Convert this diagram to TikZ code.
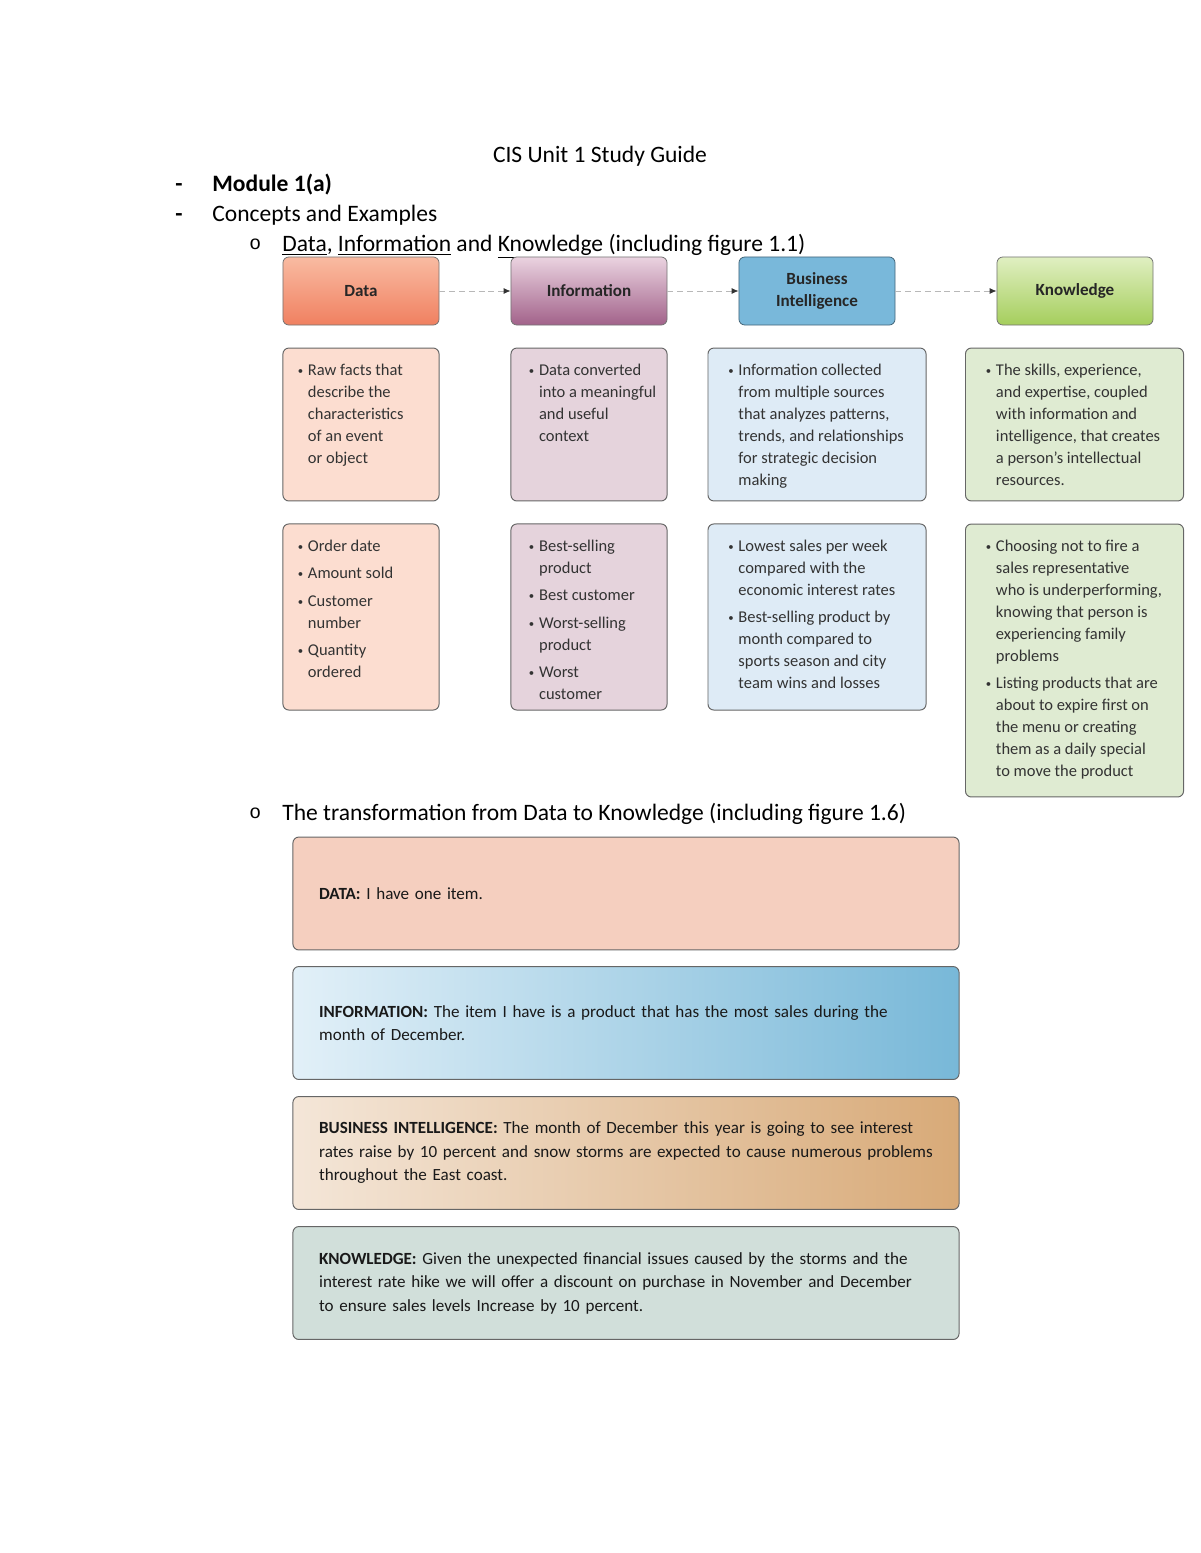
\documentclass[tikz,border=0pt]{standalone}
\usepackage{fontspec}
\setmainfont{Carlito}
\newfontfamily\monofont{Liberation Mono}
\usetikzlibrary{positioning,arrows.meta}

\definecolor{datatop}{RGB}{249,187,162}
\definecolor{databot}{RGB}{240,128,96}
\definecolor{infotop}{RGB}{234,211,224}
\definecolor{infobot}{RGB}{162,98,138}
\definecolor{bicol}{RGB}{121,184,218}
\definecolor{knowtop}{RGB}{224,239,194}
\definecolor{knowbot}{RGB}{165,206,92}
\definecolor{datalight}{RGB}{252,221,208}
\definecolor{infolight}{RGB}{229,211,220}
\definecolor{bilight}{RGB}{222,235,246}
\definecolor{knowlight}{RGB}{223,235,210}
\definecolor{tdatacol}{RGB}{245,207,191}
\definecolor{tinfoleft}{RGB}{226,240,248}
\definecolor{tinforight}{RGB}{120,184,216}
\definecolor{tbileft}{RGB}{244,230,216}
\definecolor{tbiright}{RGB}{216,170,120}
\definecolor{tknowcol}{RGB}{209,223,218}

\newcommand{\bul}{\makebox[5.2pt][l]{\raisebox{0.5pt}{\fontsize{5.5}{5.5}\selectfont\textbullet}}}
\newcommand{\cnt}{\hspace*{5.2pt}}

\begin{document}
\begin{tikzpicture}[x=0.51pt, y=-0.51pt,
		hbox/.style={draw=black!55, rounded corners=3pt, minimum width=79.6pt, minimum height=34.7pt, align=center, font=\fontsize{8.7}{11.2}\selectfont\bfseries, text=black!85},
		dbox/.style={draw=black!60, rounded corners=3pt, line width=0.5pt},
		dtext/.style={inner sep=0pt, align=left, font=\fontsize{8.4}{11.2}\selectfont, text=black!80},
		tbox/.style={draw=black!60, rounded corners=3pt, line width=0.5pt, minimum width=339.7pt, minimum height=57.6pt, text width=313pt, inner xsep=13.3pt, align=left, font=\fontsize{8.7}{12}\selectfont, text=black!90},
		flow/.style={draw=black!28, dash pattern=on 3pt off 2pt, -{Latex[length=3.5pt, width=3pt, color=black!80]}},
		line/.style={anchor=base west, inner sep=0pt, font=\fontsize{12}{14}\selectfont}]
	
	% Page
	\useasboundingbox (0,0) rectangle (1200,1553);
	
	% Heading and outline
	\node [anchor=base, inner sep=0pt, font=\fontsize{12}{14}\selectfont] (title) at (600,163) {CIS Unit 1 Study Guide};
	\node [line, font=\fontsize{12}{14}\selectfont\bfseries] (dash1) at (175,192) {-};
	\node [line, font=\fontsize{12}{14}\selectfont\bfseries] (mod) at (212,192) {Module 1(a)};
	\node [line, font=\fontsize{12}{14}\selectfont\bfseries] (dash2) at (175,222) {-};
	\node [line] (concepts) at (212,222) {Concepts and Examples};
	\node [line, font=\fontsize{10}{12}\monofont] (circ1) at (249,249) {o};
	\node [line] (sub1) at (282,251) {\underline{Data}, \underline{Information} and \underline{Knowledge\ }(including figure 1.1)};
	
	% Figure 1.1: header boxes
	\node [hbox, top color=datatop, bottom color=databot] (hdata) at (361,291) {Data};
	\node [hbox, top color=infotop, bottom color=infobot] (hinfo) at (589,291) {Information};
	\node [hbox, fill=bicol, draw=bicol!55!black] (hbi) at (817,291) {Business\\Intelligence};
	\node [hbox, top color=knowtop, bottom color=knowbot] (hknow) at (1075,291) {Knowledge};
	
	\draw [flow] (hdata) -- (hinfo);
	\draw [flow] (hinfo) -- (hbi);
	\draw [flow] (hbi) -- (hknow);
	
	% Figure 1.1: definitions
	\node [dbox, fill=datalight, minimum width=79.6pt, minimum height=78pt] (ddata) at (361,424.5) {};
	\node [dbox, fill=infolight, minimum width=79.6pt, minimum height=78pt] (dinfo) at (589,424.5) {};
	\node [dbox, fill=bilight, minimum width=111.2pt, minimum height=78pt] (dbi) at (817,424.5) {};
	\node [dbox, fill=knowlight, minimum width=111.2pt, minimum height=78pt] (dknow) at (1074.5,424.5) {};
	
	\node [dtext, below right=8.4pt and 7.6pt of ddata.north west] (ddatatxt) {\bul Raw facts that\\ \cnt describe the\\ \cnt characteristics\\ \cnt of an event\\ \cnt or object};
	\node [dtext, below right=8.4pt and 9.2pt of dinfo.north west] (dinfotxt) {\bul Data converted\\ \cnt into a meaningful\\ \cnt and useful\\ \cnt context};
	\node [dtext, below right=8.4pt and 10.4pt of dbi.north west] (dbitxt) {\bul Information collected\\ \cnt from multiple sources\\ \cnt that analyzes patterns,\\ \cnt trends, and relationships\\ \cnt for strategic decision\\ \cnt making};
	\node [dtext, below right=8.4pt and 10.4pt of dknow.north west] (dknowtxt) {\bul The skills, experience,\\ \cnt and expertise, coupled\\ \cnt with information and\\ \cnt intelligence, that creates\\ \cnt a person's intellectual\\ \cnt resources.};
	
	% Figure 1.1: examples
	\node [dbox, fill=datalight, minimum width=79.6pt, minimum height=94.9pt] (edata) at (361,617) {};
	\node [dbox, fill=infolight, minimum width=79.6pt, minimum height=94.9pt] (einfo) at (589,617) {};
	\node [dbox, fill=bilight, minimum width=111.2pt, minimum height=94.9pt] (ebi) at (817,617) {};
	\node [dbox, fill=knowlight, minimum width=111.2pt, minimum height=139.2pt] (eknow) at (1074.5,660.5) {};
	
	\node [dtext, below right=8.1pt and 7.6pt of edata.north west] (edatatxt) {\bul Order date\\[2.8pt] \bul Amount sold\\[2.8pt] \bul Customer\\ \cnt number\\[2.8pt] \bul Quantity\\ \cnt ordered};
	\node [dtext, below right=8.1pt and 9.2pt of einfo.north west] (einfotxt) {\bul Best-selling\\ \cnt product\\[2.8pt] \bul Best customer\\[2.8pt] \bul Worst-selling\\ \cnt product\\[2.8pt] \bul Worst\\ \cnt customer};
	\node [dtext, below right=8.1pt and 10.4pt of ebi.north west] (ebitxt) {\bul Lowest sales per week\\ \cnt compared with the\\ \cnt economic interest rates\\[2.8pt] \bul Best-selling product by\\ \cnt month compared to\\ \cnt sports season and city\\ \cnt team wins and losses};
	\node [dtext, below right=8.1pt and 10.4pt of eknow.north west] (eknowtxt) {\bul Choosing not to fire a\\ \cnt sales representative\\ \cnt who is underperforming,\\ \cnt knowing that person is\\ \cnt experiencing family\\ \cnt problems\\[2.8pt] \bul Listing products that are\\ \cnt about to expire first on\\ \cnt the menu or creating\\ \cnt them as a daily special\\ \cnt to move the product};
	
	% Second outline item
	\node [line, font=\fontsize{10}{12}\monofont] (circ2) at (249,818) {o};
	\node [line] (sub2) at (282,820) {The transformation from Data to Knowledge (including figure 1.6)};
	
	% Figure 1.6: transformation boxes
	\node [tbox, fill=tdatacol] (tdata) at (626,893.5) {\mbox{\textbf{DATA:} I have one item.}};
	\node [tbox, left color=tinfoleft, right color=tinforight] (tinfo) at (626,1023) {\mbox{\textbf{INFORMATION:} The item I have is a product that has the most sales during the}\\ \mbox{month of December.}};
	\node [tbox, left color=tbileft, right color=tbiright] (tbi) at (626,1153) {\mbox{\textbf{BUSINESS INTELLIGENCE:} The month of December this year is going to see interest}\\ \mbox{rates raise by 10 percent and snow storms are expected to cause numerous problems}\\ \mbox{throughout the East coast.}};
	\node [tbox, fill=tknowcol] (tknow) at (626,1283) {\mbox{\textbf{KNOWLEDGE:} Given the unexpected financial issues caused by the storms and the}\\ \mbox{interest rate hike we will offer a discount on purchase in November and December}\\ \mbox{to ensure sales levels Increase by 10 percent.}};
	
\end{tikzpicture}
\end{document}
